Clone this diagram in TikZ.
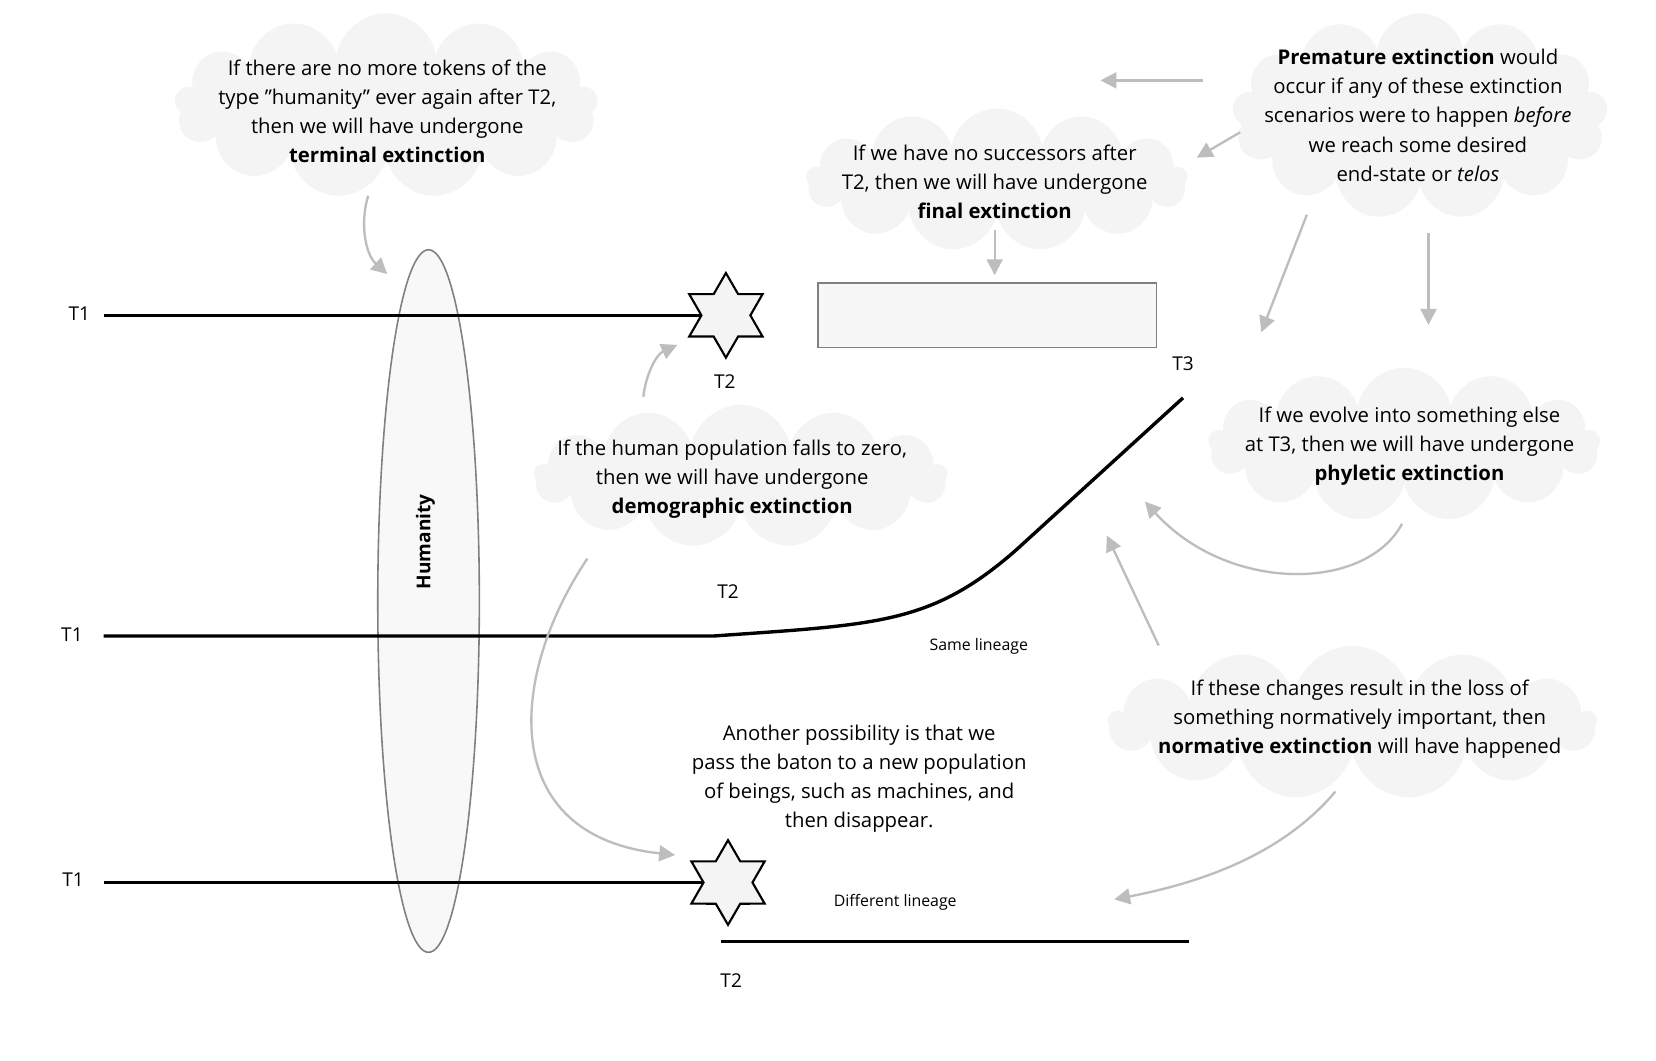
\documentclass[tikz,border=0pt]{standalone}
\usepackage{fontspec}
\setmainfont{Open Sans}
\usetikzlibrary{shapes.geometric,shapes.symbols,arrows.meta}
\definecolor{cl}{HTML}{F4F4F4}
\definecolor{ar}{HTML}{BDBDBD}
\tikzset{
 txt/.style={align=center,font=\fontsize{19.2}{27.5}\selectfont},
 lab/.style={font=\fontsize{18}{20}\selectfont},
 small/.style={font=\fontsize{15}{18}\selectfont},
 cloudy/.style={cloud,cloud puffs=13,cloud puff arc=160,fill=cl,draw=none,aspect=2.4},
 tl/.style={line width=3.2pt},
 ga/.style={draw=ar,line width=2.2pt,-{Triangle[length=15pt,width=15pt]}},
 st/.style={star,star points=6,star point ratio=1.73,minimum size=80pt,inner sep=0pt,draw=black,line width=2pt,fill=cl}
}
\begin{document}
\begin{tikzpicture}[x=1pt,y=-1pt]
\useasboundingbox[fill=white] (0,0) rectangle (1565,1002);
% clouds
\node[cloudy,minimum width=400pt,minimum height=175pt] (c1) at (365,100) {};
\node[cloudy,minimum width=360pt,minimum height=135pt] (c2) at (942,170) {};
\node[cloudy,minimum width=355pt,minimum height=195pt] (c3) at (1342,110) {};
\node[cloudy,minimum width=370pt,minimum height=145pt] (c4) at (1327,420) {};
\node[cloudy,minimum width=390pt,minimum height=135pt] (c5) at (700,450) {};
\node[cloudy,minimum width=460pt,minimum height=145pt] (c6) at (1278,683) {};
% ellipse
\node[ellipse,draw=gray,line width=1.5pt,fill=cl!80!gray!20,minimum width=96pt,minimum height=664pt] (hum) at (405,568) {};
\node[rotate=90,font=\fontsize{18}{20}\selectfont\bfseries] (humt) at (402,512) {Humanity};
% timelines
\node[st] (s1) at (686,298) {};
\node[st] (s2) at (688,834) {};
\coordinate (a1) at (98,298);
\coordinate (a2) at (98,601);
\coordinate (b2) at (675,601);
\coordinate (e2) at (1118,376);
\coordinate (a3) at (98,834);
\coordinate (d1) at (681,890);
\coordinate (d2) at (1124,890);
\draw[tl] (a1) -- (s1.west);
\draw[tl] (a2) -- (b2) .. controls (830,590) and (880,590) .. (960,520) -- (e2);
\draw[tl] (a3) -- (s2.west);
\draw[tl] (d1) -- (d2);
\node[draw=gray,line width=1.5pt,fill=cl!70!white,minimum width=320pt,minimum height=61pt] (box) at (933,298) {};
% labels
\node[lab] (l1) at (75,296) {T1};
\node[lab] (l2) at (685,361) {T2};
\node[lab] (l3) at (68,600) {T1};
\node[lab] (l4) at (688,559) {T2};
\node[lab] (l5) at (1118,344) {T3};
\node[lab] (l6) at (69,831) {T1};
\node[lab] (l7) at (691,927) {T2};
\node[small] (sl) at (925,611) {Same lineage};
\node[small] (dl) at (846,853) {Different lineage};
% texts
\node[txt] (t1) at (366,105) {If there are no more tokens of the\\type "humanity" ever again after T2,\\then we will have undergone\\\textbf{terminal extinction}};
\node[txt] (t2) at (940,172) {If we have no successors after\\T2, then we will have undergone\\\textbf{final extinction}};
\node[txt] (t3) at (1340,109) {\textbf{Premature extinction} would\\occur if any of these extinction\\scenarios were to happen \textit{before}\\we reach some desired\\end-state or \textit{telos}};
\node[txt] (t4) at (1332,422) {If we evolve into something else\\at T3, then we will have undergone\\\textbf{phyletic extinction}};
\node[txt] (t5) at (692,453) {If the human population falls to zero,\\then we will have undergone\\\textbf{demographic extinction}};
\node[txt] (t6) at (1285,680) {If these changes result in the loss of\\something normatively important, then\\\textbf{normative extinction} will have happened};
\node[txt] (t7) at (812,736) {Another possibility is that we\\pass the baton to a new population\\of beings, such as machines, and\\then disappear.};
% arrows
\coordinate (p1) at (348,185); \coordinate (q1) at (366,259);
\coordinate (p2) at (608,375); \coordinate (q2) at (640,326);
\coordinate (p3) at (940,217); \coordinate (q3) at (940,260);
\coordinate (p4) at (1137,76); \coordinate (q4) at (1040,76);
\coordinate (p5) at (1172,125); \coordinate (q5) at (1131,149);
\coordinate (p6) at (1235,203); \coordinate (q6) at (1192,314);
\coordinate (p7) at (1350,220); \coordinate (q7) at (1350,307);
\coordinate (p8) at (1325,495); \coordinate (q8) at (1082,474);
\coordinate (p9) at (1095,610); \coordinate (q9) at (1046,506);
\coordinate (p10) at (555,528); \coordinate (q10) at (638,808);
\coordinate (p11) at (1262,748); \coordinate (q11) at (1053,850);
\draw[ga] (p1) .. controls (340,210) and (345,240) .. (q1);
\draw[ga] (p2) .. controls (610,355) and (620,335) .. (q2);
\draw[ga] (p3) -- (q3);
\draw[ga] (p4) -- (q4);
\draw[ga] (p5) -- (q5);
\draw[ga] (p6) -- (q6);
\draw[ga] (p7) -- (q7);
\draw[ga] (p8) .. controls (1290,560) and (1160,560) .. (q8);
\draw[ga] (p9) -- (q9);
\draw[ga] (p10) .. controls (480,640) and (470,790) .. (q10);
\draw[ga] (p11) .. controls (1210,810) and (1130,835) .. (q11);
\end{tikzpicture}
\end{document}
